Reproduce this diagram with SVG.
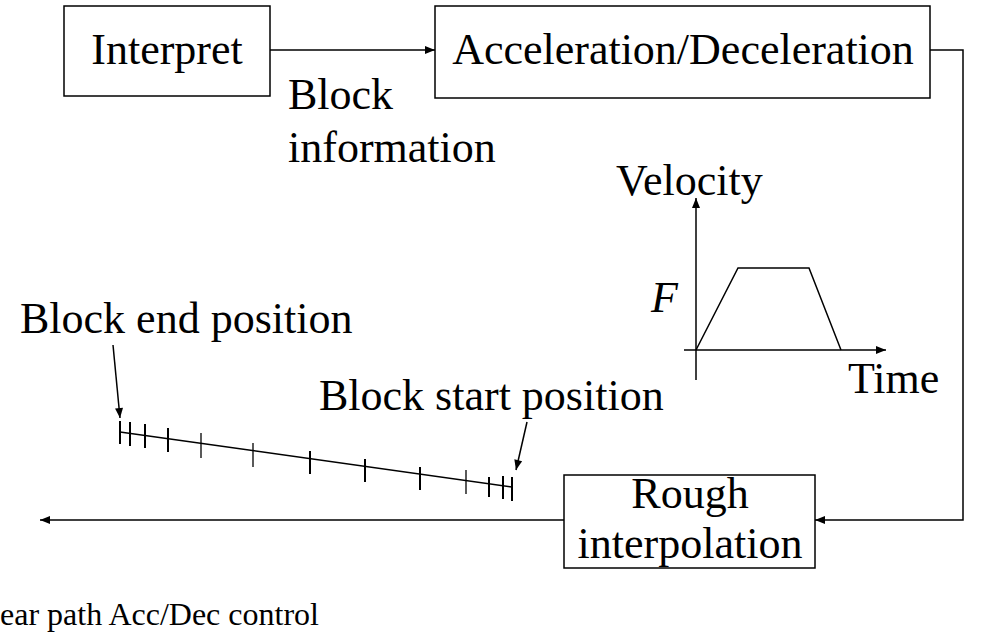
<svg xmlns="http://www.w3.org/2000/svg" width="981" height="634" viewBox="0 0 981 634">
<style>
text{font-family:"Liberation Serif",serif;font-size:44px;fill:#000}
.b{fill:#fff;stroke:#000;stroke-width:1.5}
.c{fill:none;stroke:#000;stroke-width:1.5}
.t{stroke:#000;stroke-width:2}
.th{stroke:#000;stroke-width:1.3}
</style>
<defs><marker id="a" viewBox="0 0 10 10" refX="10" refY="5" markerWidth="14" markerHeight="10" markerUnits="userSpaceOnUse" orient="auto"><path d="M0,1 L10,5 L0,9 Z" fill="#000"/></marker></defs>
<rect width="981" height="634" fill="#fff"/>
<g id="interpret"><rect class="b" x="64" y="6" width="206" height="90"/><text x="167" y="64" text-anchor="middle" font-family="Liberation Serif, serif">Interpret</text></g>
<g id="accdec"><rect class="b" x="435" y="6" width="495" height="92"/><text x="683" y="64" text-anchor="middle" font-family="Liberation Serif, serif">Acceleration/Deceleration</text></g>
<g id="rough"><rect class="b" x="564" y="475" width="251" height="93"/><text x="690" y="508" text-anchor="middle" font-family="Liberation Serif, serif">Rough</text><text x="690" y="558" text-anchor="middle" font-family="Liberation Serif, serif">interpolation</text></g>
<g id="connectors">
<path class="c" d="M270,50 H435" marker-end="url(#a)"/>
<path class="c" d="M930,50 H963 V520 H815" marker-end="url(#a)"/>
<path class="c" d="M564,520 H40" marker-end="url(#a)"/>
<path class="c" d="M113,345 L120,418" marker-end="url(#a)"/>
<path class="c" d="M527,422 L516,470" marker-end="url(#a)"/>
</g>
<g id="labels" font-family="Liberation Serif, serif">
<text x="288" y="109">Block</text>
<text x="288" y="162">information</text>
<text x="616" y="195">Velocity</text>
<text x="651" y="312" font-style="italic">F</text>
<text x="848" y="393">Time</text>
<text x="20" y="333">Block end position</text>
<text x="319" y="410">Block start position</text>
<text x="0" y="625" style="font-size:32px">ear path Acc/Dec control</text>
</g>
<g id="graph">
<path class="c" d="M696,380 V198" marker-end="url(#a)"/>
<path class="c" d="M684,350 H886" marker-end="url(#a)"/>
<path class="c" d="M696,350 L738,268 H809 L841,350"/>
</g>
<g id="path">
<path class="c" d="M120,432 L512,487"/>
<g class="t">
<line x1="120" y1="421" x2="120" y2="444"/><line x1="130" y1="422" x2="130" y2="446"/><line x1="145" y1="424" x2="145" y2="448"/><line x1="168" y1="428" x2="168" y2="452"/>
<line x1="310" y1="451" x2="310" y2="474"/><line x1="365" y1="459" x2="365" y2="482"/><line x1="420" y1="467" x2="420" y2="490"/><line x1="489" y1="477" x2="489" y2="497"/><line x1="503" y1="476" x2="503" y2="499"/><line x1="512" y1="477" x2="512" y2="501"/>
</g>
<g class="th"><line x1="201" y1="433" x2="201" y2="458"/><line x1="253" y1="443" x2="253" y2="467"/><line x1="466" y1="470" x2="466" y2="494"/></g>
</g>
</svg>
